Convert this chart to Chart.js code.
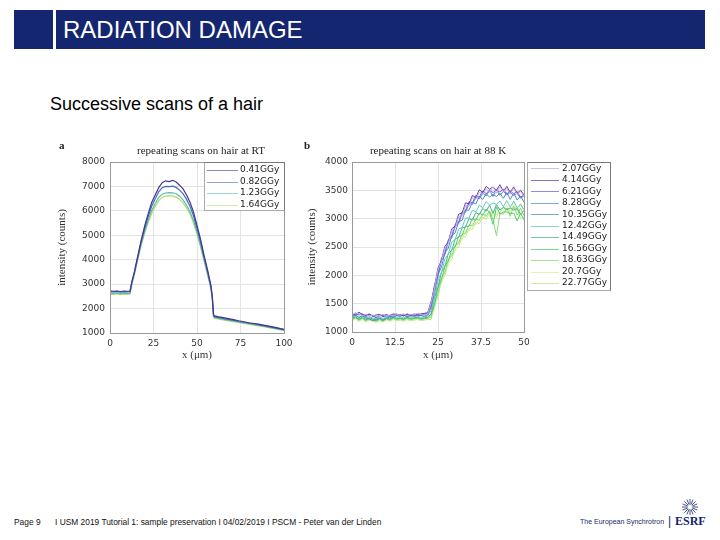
<!DOCTYPE html>
<html><head><meta charset="utf-8">
<script src="https://cdn.jsdelivr.net/npm/chart.js@4.4.1/dist/chart.umd.min.js"></script>
<style>
html,body{margin:0;padding:0;background:#fff;}
body{width:720px;height:540px;position:relative;overflow:hidden;font-family:"Liberation Sans",Arial,sans-serif;}
.abs{position:absolute;white-space:nowrap;}
#bar1{left:14px;top:10px;width:39px;height:39px;background:#14266f;}
#bar2{left:56px;top:10px;width:649px;height:39px;background:#14266f;}
#title{left:63px;top:15px;color:#fff;font-size:24px;line-height:30px;}
#sub{left:50px;top:93px;font-size:18px;line-height:22px;color:#000;}
#wrapA{left:45px;top:135px;width:255px;height:230px;}
#wrapB{left:300px;top:135px;width:315px;height:230px;}
.foot{font-size:8.4px;line-height:10px;color:#111;top:517px;}
#f1{left:14px;}
#f2{left:55px;}
#f3{left:580px;color:#1a2a6a;font-size:7px;}
#f4{left:668px;top:514px;color:#1a2a6a;font-size:12px;line-height:14px;}
#esrf{left:675px;top:514px;font-family:"Liberation Serif",serif;font-weight:bold;font-size:12px;line-height:14px;color:#14266f;}
#burst{left:680px;top:498px;}
</style></head>
<body>
<div id="bar1" class="abs"></div>
<div id="bar2" class="abs"></div>
<div id="title" class="abs">RADIATION DAMAGE</div>
<div id="sub" class="abs">Successive scans of a hair</div>
<div id="wrapA" class="abs"><canvas id="cA" width="255" height="230"></canvas></div>
<div id="wrapB" class="abs"><canvas id="cB" width="315" height="230"></canvas></div>
<div id="f1" class="abs foot">Page 9</div>
<div id="f2" class="abs foot">I USM 2019 Tutorial 1: sample preservation I 04/02/2019 I PSCM - Peter van der Linden</div>
<div id="f3" class="abs foot">The European Synchrotron</div>
<div id="f4" class="abs">|</div>
<div id="esrf" class="abs">ESRF</div>
<canvas id="burst" class="abs" width="20" height="18"></canvas>
<script>
// ---------- Panel a data ----------
const xA = [0,2,4,6,8,10,11.5,12.5,14,16,18,20,22,24,26,28,30,32,34,36,38,40,42,44,46,48,50,52,54,56,58,58.8,59.5,60,62,65,68,71,74,77,80,83,86,89,92,95,98,100];
const a041 = [2730,2710,2720,2700,2720,2710,2720,3080,3500,4170,4820,5400,5900,6350,6650,6950,7150,7230,7200,7250,7180,7050,6900,6650,6350,5950,5400,4850,4200,3600,2950,2500,1760,1700,1670,1630,1590,1550,1500,1460,1420,1390,1350,1310,1270,1230,1180,1150];
const a082 = [2690,2680,2700,2670,2690,2680,2690,3050,3470,4120,4750,5300,5780,6200,6500,6780,6950,7000,6990,7010,6960,6850,6700,6470,6180,5800,5280,4740,4120,3530,2900,2450,1720,1670,1640,1600,1560,1520,1470,1440,1400,1370,1330,1290,1250,1210,1170,1140];
const a123 = [2630,2620,2640,2610,2630,2620,2630,3000,3420,4060,4660,5180,5630,6020,6300,6550,6680,6730,6750,6740,6700,6600,6450,6230,5960,5600,5130,4610,4020,3450,2850,2400,1690,1640,1610,1570,1530,1490,1450,1410,1380,1340,1310,1270,1230,1190,1150,1120];
const a164 = [2590,2580,2600,2570,2590,2580,2590,2960,3380,4010,4600,5100,5530,5900,6180,6420,6550,6600,6620,6600,6560,6470,6330,6120,5860,5500,5050,4540,3960,3400,2800,2350,1660,1610,1580,1540,1500,1460,1420,1390,1350,1320,1280,1250,1210,1170,1130,1100];
const labelsA = ['0.41GGy','0.82GGy','1.23GGy','1.64GGy'];
const colorsA = ['#4a358c','#3f6db5','#5cbcae','#b0de6c'];
const xTicksA = [0,25,50,75,100];
const yTicksA = [1000,2000,3000,4000,5000,6000,7000,8000];

// ---------- Panel b data ----------
const xB = [0,1,2,3,4,5,6,7,8,9,10,11,12,13,14,15,16,17,18,19,20,21,22,23,24,25,26,27,28,29,30,31,32,33,34,35,36,37,38,39,40,41,42,43,44,45,46,47,48,49,50];
const b207 = [1300,1340,1320,1290,1310,1280,1300,1270,1290,1310,1280,1300,1290,1310,1300,1320,1290,1310,1300,1330,1310,1300,1320,1520,1780,2110,2240,2480,2560,2790,2830,3040,3050,3230,3220,3370,3340,3470,3420,3530,3470,3560,3450,3560,3480,3530,3440,3540,3430,3480,3390];
const b414 = [1320,1300,1350,1310,1290,1320,1280,1300,1310,1270,1300,1290,1320,1300,1310,1280,1320,1300,1290,1310,1320,1330,1340,1540,1800,2130,2260,2510,2590,2820,2870,3080,3100,3280,3260,3410,3370,3510,3460,3570,3520,3560,3500,3600,3480,3570,3460,3560,3450,3500,3420];
const b621 = [1290,1330,1300,1320,1280,1310,1290,1260,1300,1290,1310,1270,1300,1320,1290,1300,1310,1290,1320,1300,1290,1310,1330,1470,1840,2020,2300,2390,2630,2690,2900,2940,3120,3140,3300,3280,3410,3380,3490,3440,3510,3460,3500,3470,3520,3430,3490,3440,3480,3380,3420];
const b828 = [1310,1290,1320,1300,1270,1300,1280,1250,1280,1300,1270,1290,1280,1300,1310,1290,1300,1280,1310,1290,1300,1320,1310,1430,1790,1980,2260,2360,2600,2660,2870,2910,3090,3110,3270,3250,3380,3350,3460,3400,3500,3390,3510,3410,3480,3420,3460,3410,3450,3360,3400];
const b1035 = [1280,1300,1260,1290,1250,1230,1200,1220,1250,1210,1240,1270,1260,1290,1280,1300,1270,1290,1280,1300,1290,1280,1300,1440,1680,2020,2140,2400,2480,2700,2750,2950,2970,3150,3150,3290,3260,3390,3340,3440,3380,3430,3390,3450,3360,3460,3340,3450,3330,3400,3290];
const b1242 = [1260,1290,1250,1280,1240,1270,1250,1230,1260,1240,1270,1250,1280,1260,1270,1250,1280,1260,1270,1280,1260,1270,1280,1380,1580,1920,2040,2290,2370,2590,2630,2820,2840,3010,3010,3150,3120,3240,3190,3300,3240,3280,3250,3310,3210,3320,3200,3310,3190,3260,3160];
const b1449 = [1240,1270,1230,1260,1220,1250,1230,1210,1240,1220,1250,1230,1260,1240,1250,1230,1260,1240,1250,1260,1240,1250,1260,1310,1610,1780,2060,2150,2390,2440,2640,2670,2840,2850,3000,2980,3110,3070,3180,3130,3240,3090,3250,3150,3200,3160,3190,3150,3180,3080,3140];
const b1656 = [1230,1260,1220,1250,1210,1240,1220,1200,1230,1190,1240,1220,1250,1230,1240,1220,1250,1230,1240,1250,1230,1240,1250,1320,1480,1800,1920,2170,2250,2460,2500,2690,2700,2870,2860,3000,2970,3100,3060,3170,3110,2900,3210,3080,3120,3120,3090,3100,2960,3100,2980];
const b1863 = [1220,1250,1210,1240,1200,1230,1210,1190,1220,1200,1230,1210,1240,1220,1230,1210,1240,1220,1230,1240,1220,1230,1240,1260,1520,1680,1960,2050,2290,2340,2540,2560,2730,2740,2890,2870,3000,2970,3090,3040,3140,2980,2700,3090,3080,3190,3040,3220,3060,3190,3050];
const b2070 = [1210,1240,1200,1230,1190,1220,1200,1180,1210,1190,1220,1200,1230,1210,1220,1200,1230,1210,1220,1230,1210,1220,1230,1280,1400,1730,1850,2100,2180,2390,2430,2610,2620,2790,2780,2920,2890,3020,2980,3100,3040,3160,3020,3190,3140,3240,3100,3270,3120,3260,3110];
const b2277 = [1200,1230,1190,1220,1180,1210,1190,1170,1200,1180,1210,1190,1220,1200,1210,1190,1220,1200,1210,1220,1200,1210,1220,1220,1450,1620,1900,1990,2230,2280,2480,2500,2670,2680,2830,2810,2940,2910,3030,2990,3100,3060,3080,3100,3210,3150,3170,3180,3190,3000,3030];
const labelsB = ['2.07GGy','4.14GGy','6.21GGy','8.28GGy','10.35GGy','12.42GGy','14.49GGy','16.56GGy','18.63GGy','20.7GGy','22.77GGy'];
const colorsB = ['#c2a9e2','#6a3fa0','#7262e0','#5a88dd','#4a8fb8','#62c8c0','#48b092','#52d062','#8ad87a','#dcee9c','#bce884'];
const xTicksB = [0,12.5,25,37.5,50];
const yTicksB = [1000,1500,2000,2500,3000,3500,4000];

const seriesA = [a041,a082,a123,a164];
const seriesB = [b207,b414,b621,b828,b1035,b1242,b1449,b1656,b1863,b2070,b2277];

function pts(xs, ys){ return ys.map((v,i)=>({x:xs[i], y:v})); }

const framePlugin = {
  id:'frame',
  afterDatasetsDraw(chart, args, o){
    const ctx = chart.ctx, a = chart.chartArea;
    ctx.save();
    ctx.strokeStyle = '#9a9a9a'; ctx.lineWidth = 1;
    ctx.strokeRect(Math.round(a.left)+0.5, Math.round(a.top)+0.5, Math.round(a.right-a.left), Math.round(a.bottom-a.top));
    ctx.restore();
  },
  afterDraw(chart, args, o){
    const ctx = chart.ctx;
    ctx.save();
    ctx.fillStyle = '#222';
    ctx.font = '11px "Liberation Serif", serif';
    ctx.textAlign = 'center'; ctx.textBaseline = 'middle';
    ctx.fillText(o.title, o.titleX, o.titleY);
    ctx.font = 'bold 11px "Liberation Serif", serif';
    ctx.textAlign = 'left';
    ctx.fillText(o.letter, o.letterX, o.letterY);
    const L = o.legend;
    ctx.fillStyle = '#fff';
    ctx.fillRect(L.x, L.y, L.w, L.h);
    ctx.strokeStyle = '#aaa'; ctx.lineWidth = 1;
    ctx.strokeRect(L.x+0.5, L.y+0.5, L.w, L.h);
    ctx.strokeStyle = '#777';
    ctx.beginPath();
    ctx.moveTo(L.x+0.5, L.y+0.5); ctx.lineTo(L.x+L.w+0.5, L.y+0.5); ctx.lineTo(L.x+L.w+0.5, L.y+L.h+0.5);
    ctx.stroke();
    ctx.font = '9px "DejaVu Sans", sans-serif';
    ctx.textBaseline = 'middle';
    chart.data.datasets.forEach((ds,i)=>{
      const yy = L.y + L.first + i*L.row;
      ctx.globalAlpha = L.alpha;
      ctx.strokeStyle = ds.borderColor;
      ctx.beginPath(); ctx.moveTo(L.lx0, Math.round(yy)+0.5); ctx.lineTo(L.lx1, Math.round(yy)+0.5); ctx.stroke();
      ctx.globalAlpha = 1;
      ctx.fillStyle = '#222';
      ctx.fillText(ds.label, L.tx, yy);
    });
    ctx.restore();
  }
};

function makeChart(id, xs, series, labels, colors, xTicks, yTicks, cfg){
  const datasets = series.map((s,i)=>({
    label: labels[i], data: pts(xs, s), borderColor: colors[i], borderWidth: cfg.lw,
    pointRadius: 0, fill: false, tension: 0
  }));
  return new Chart(document.getElementById(id), {
    type: 'line',
    data: { datasets },
    plugins: [framePlugin],
    options: {
      responsive: false, animation: false, devicePixelRatio: 1,
      layout: { padding: { top: cfg.padTop, right: cfg.padRight, left: 0, bottom: 0 } },
      plugins: { legend: { display: false }, tooltip: { enabled: false }, title: { display: false },
        frame: cfg.frame },
      scales: {
        x: {
          type: 'linear', min: xTicks[0], max: xTicks[xTicks.length-1],
          afterBuildTicks: (s)=>{ s.ticks = xTicks.map(v=>({value:v})); },
          afterFit: (s)=>{ s.height = cfg.xH; },
          grid: { color: '#e3e3e3', drawTicks: false },
          border: { display: false },
          ticks: { color: '#333', font: { family: 'DejaVu Sans', size: 9 }, padding: cfg.xPad, maxRotation: 0,
                   callback: (v)=>String(v) },
          title: { display: true, text: 'x (\u03bcm)', color: '#333', font: { family: 'Liberation Serif', size: 11 },
                   padding: { top: 0, bottom: cfg.xTitlePad } }
        },
        y: {
          type: 'linear', min: yTicks[0], max: yTicks[yTicks.length-1],
          afterBuildTicks: (s)=>{ s.ticks = yTicks.map(v=>({value:v})); },
          afterFit: (s)=>{ s.width = cfg.yW; },
          grid: { color: '#e3e3e3', drawTicks: false },
          border: { display: false },
          ticks: { color: '#333', font: { family: 'DejaVu Sans', size: 9 }, padding: cfg.yPad,
                   callback: (v)=>String(v) },
          title: { display: true, text: 'intensity (counts)', color: '#333', font: { family: 'Liberation Serif', size: 11 },
                   padding: { top: cfg.yTitlePad, bottom: 0 } }
        }
      }
    }
  });
}

makeChart('cA', xA, seriesA, labelsA, colorsA, xTicksA, yTicksA, {
  lw: 1.2, padTop: 27, padRight: 16, xH: 32, yW: 65, xPad: 5, yPad: 5, xTitlePad: 3.4, yTitlePad: 10.4,
  frame: { title: 'repeating scans on hair at RT', titleX: 156, titleY: 16, letter: 'a', letterX: 14, letterY: 11,
    legend: { x: 159, y: 27, w: 80, h: 48, first: 8, row: 11.5, lx0: 162, lx1: 193, tx: 195, alpha: 0.6 } }
});
makeChart('cB', xB, seriesB, labelsB, colorsB, xTicksB, yTicksB, {
  lw: 1, padTop: 27, padRight: 91, xH: 33, yW: 52, xPad: 5, yPad: 4, xTitlePad: 3.4, yTitlePad: 5.4,
  frame: { title: 'repeating scans on hair at 88 K', titleX: 138, titleY: 16, letter: 'b', letterX: 4, letterY: 11,
    legend: { x: 227, y: 27, w: 83, h: 128, first: 6.3, row: 11.47, lx0: 231, lx1: 259, tx: 262, alpha: 0.75 } }
});

// ESRF starburst decoration
(function(){
  const c = document.getElementById('burst').getContext('2d');
  c.strokeStyle = '#14266f'; c.lineWidth = 0.8;
  for (let k = 0; k < 16; k++) {
    const t = k * Math.PI / 8;
    c.beginPath();
    c.moveTo(10 + Math.cos(t)*2.5, 9 + Math.sin(t)*2.5);
    c.lineTo(10 + Math.cos(t)*8, 9 + Math.sin(t)*8);
    c.stroke();
  }
})();
</script>
</body></html>
